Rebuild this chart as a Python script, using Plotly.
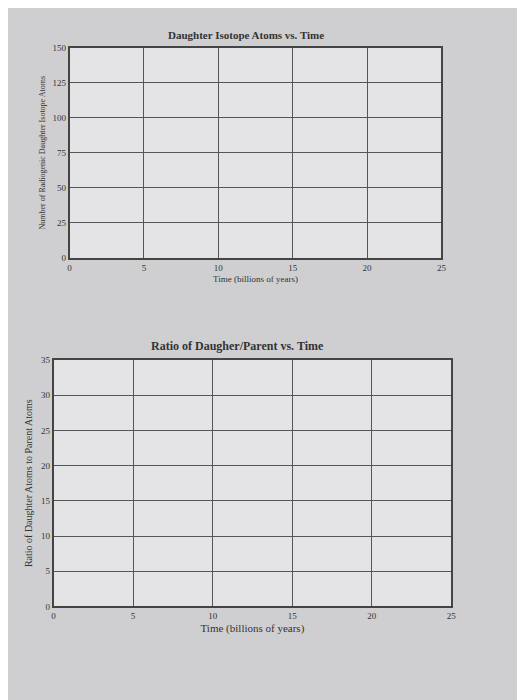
import plotly.graph_objects as go

top_title = "Daughter Isotope Atoms vs. Time"
bottom_title = "Ratio of Daugher/Parent vs. Time"
x_ticks = [0, 5, 10, 15, 20, 25]
top_y_ticks = [0, 25, 50, 75, 100, 125, 150]
bottom_y_ticks = [0, 5, 10, 15, 20, 25, 30, 35]
x_label = "Time (billions of years)"
top_y_label = "Number of Radiogenic Daughter Isotope Atoms"
bottom_y_label = "Ratio of Daughter Atoms to Parent Atoms"

font = dict(family="Liberation Serif", color="#333")
fig = go.Figure()
fig.add_trace(go.Scatter(x=[], y=[], xaxis="x", yaxis="y"))
fig.add_trace(go.Scatter(x=[], y=[], xaxis="x2", yaxis="y2"))

ax = dict(showgrid=True, gridcolor="#555", gridwidth=1, showline=True, linecolor="#444",
          linewidth=1.5, mirror=True, zeroline=False, tickfont=dict(size=9, **font),
          tickmode="array", fixedrange=True)
fig.update_layout(
    width=525, height=700, margin=dict(l=0, r=0, t=0, b=0), showlegend=False,
    paper_bgcolor="#cfcfd1", plot_bgcolor="#e4e4e6", font=font,
    xaxis=dict(domain=[0.115, 0.833], anchor="y", range=[0, 25], tickvals=x_ticks,
               title=dict(text=x_label, font=dict(size=9, **font), standoff=4), **ax),
    yaxis=dict(domain=[0.645, 0.95], anchor="x", range=[0, 150], tickvals=top_y_ticks,
               title=dict(text=top_y_label, font=dict(size=8, **font), standoff=6), **ax),
    xaxis2=dict(domain=[0.084, 0.852], anchor="y2", range=[0, 25], tickvals=x_ticks,
                title=dict(text=x_label, font=dict(size=11, **font), standoff=4), **ax),
    yaxis2=dict(domain=[0.14, 0.497], anchor="x2", range=[0, 35], tickvals=bottom_y_ticks,
                title=dict(text=bottom_y_label, font=dict(size=10, **font), standoff=6), **ax),
    annotations=[
        dict(text="<b>%s</b>" % top_title, x=0.455, y=0.968, xref="paper", yref="paper",
             yanchor="middle", showarrow=False, font=dict(size=11, **font)),
        dict(text="<b>%s</b>" % bottom_title, x=0.44, y=0.518, xref="paper", yref="paper",
             yanchor="middle", showarrow=False, font=dict(size=12, **font)),
    ],
)
fig.write_html("out.html")
